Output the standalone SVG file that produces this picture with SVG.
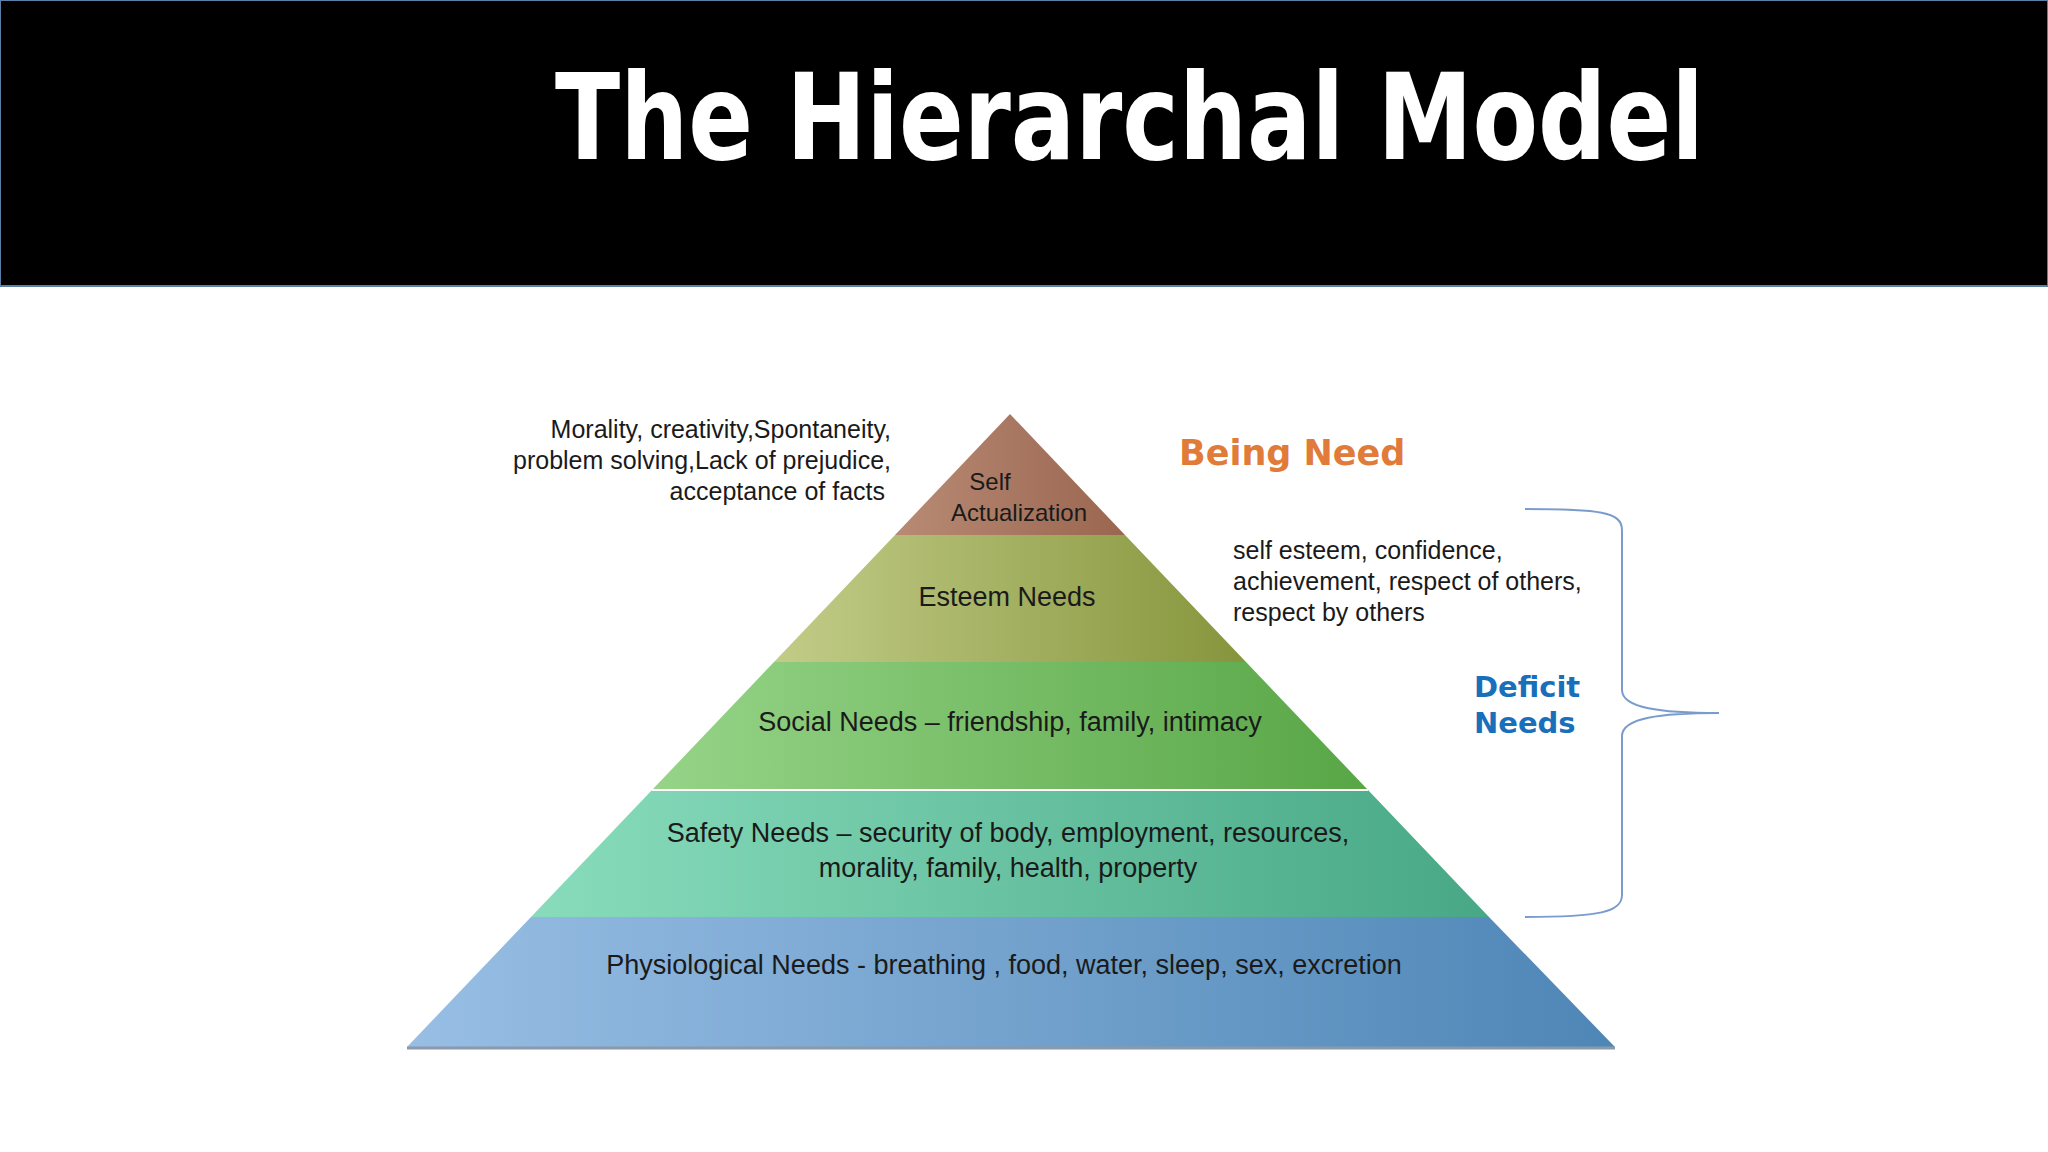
<svg xmlns="http://www.w3.org/2000/svg" width="2048" height="1152" viewBox="0 0 2048 1152">
<style>
.t{font-family:"Liberation Sans",Arial,sans-serif;fill:#1a1a1a;font-size:27px}
.m{text-anchor:middle}
</style>
<defs>
<linearGradient id="g1" x1="0" x2="1"><stop offset="0" stop-color="#b88a74"/><stop offset="1" stop-color="#9a6650"/></linearGradient>
<linearGradient id="g2" x1="0" x2="1"><stop offset="0" stop-color="#c2cc88"/><stop offset="1" stop-color="#86953c"/></linearGradient>
<linearGradient id="g3" x1="0" x2="1"><stop offset="0" stop-color="#96d488"/><stop offset="1" stop-color="#58a646"/></linearGradient>
<linearGradient id="g4" x1="0" x2="1"><stop offset="0" stop-color="#88dcbc"/><stop offset="1" stop-color="#48a886"/></linearGradient>
<linearGradient id="g5" x1="0" x2="1"><stop offset="0" stop-color="#98bee4"/><stop offset="1" stop-color="#4e86b6"/></linearGradient>
</defs>
<rect width="2048" height="1152" fill="#fff"/>
<rect x="0" y="0" width="2048" height="286" fill="#000" stroke="#5a7fa8" stroke-width="2"/>
<text x="555" y="159" textLength="1149" lengthAdjust="spacingAndGlyphs" style="font-family:'DejaVu Sans',sans-serif;font-weight:bold;font-size:120px;fill:#fff">The Hierarchal Model</text>
<g id="self"><polygon points="1010,414 1125,535 895,535" fill="url(#g1)"/><text class="t m" x="990" y="490" style="font-size:24px">Self</text><text class="t m" x="1019" y="521" style="font-size:24px">Actualization</text></g>
<g id="esteem"><polygon points="895,535 1125,535 1246,662 774,662" fill="url(#g2)"/><text class="t m" x="1007" y="606">Esteem Needs</text></g>
<g id="social"><polygon points="774,662 1246,662 1368,790 652,790" fill="url(#g3)"/><text class="t m" x="1010" y="731">Social Needs – friendship, family, intimacy</text></g>
<g id="safety"><polygon points="652,790 1368,790 1489,917 531,917" fill="url(#g4)"/><text class="t m" x="1008" y="842">Safety Needs – security of body, employment, resources,</text><text class="t m" x="1008" y="877">morality, family, health, property</text></g>
<g id="physio"><polygon points="531,917 1489,917 1615,1047 407,1047" fill="url(#g5)"/><line x1="407" y1="1048" x2="1615" y2="1048" stroke="#8a9aaa" stroke-width="3"/><text class="t m" x="1004" y="974">Physiological Needs - breathing , food, water, sleep, sex, excretion</text></g>
<line x1="652" y1="790" x2="1368" y2="790" stroke="#fff" stroke-width="2"/>
<g id="left-text" class="t" style="font-size:25px;text-anchor:end"><text x="891" y="438">Morality, creativity,Spontaneity,</text><text x="891" y="469">problem solving,Lack of prejudice,</text><text x="885" y="500">acceptance of facts</text></g>
<text id="being" x="1179" y="465" style="font-family:'DejaVu Sans',sans-serif;font-weight:bold;font-size:35px;fill:#e07b39">Being Need</text>
<g id="right-text" class="t" style="font-size:25px"><text x="1233" y="559">self esteem, confidence,</text><text x="1233" y="590">achievement, respect of others,</text><text x="1233" y="621">respect by others</text></g>
<g id="deficit" style="font-family:'DejaVu Sans',sans-serif;font-weight:bold;font-size:29px;fill:#1a6fba"><text x="1474" y="697">Deficit</text><text x="1474" y="733">Needs</text></g>
<g id="connectors"><path d="M1525,509 C1600,509 1622,512 1622,530 L1622,690 C1622,708 1660,713 1719,713 C1660,713 1622,718 1622,736 L1622,895 C1622,912 1600,917 1525,917" fill="none" stroke="#7a9ccc" stroke-width="2"/></g>
</svg>
